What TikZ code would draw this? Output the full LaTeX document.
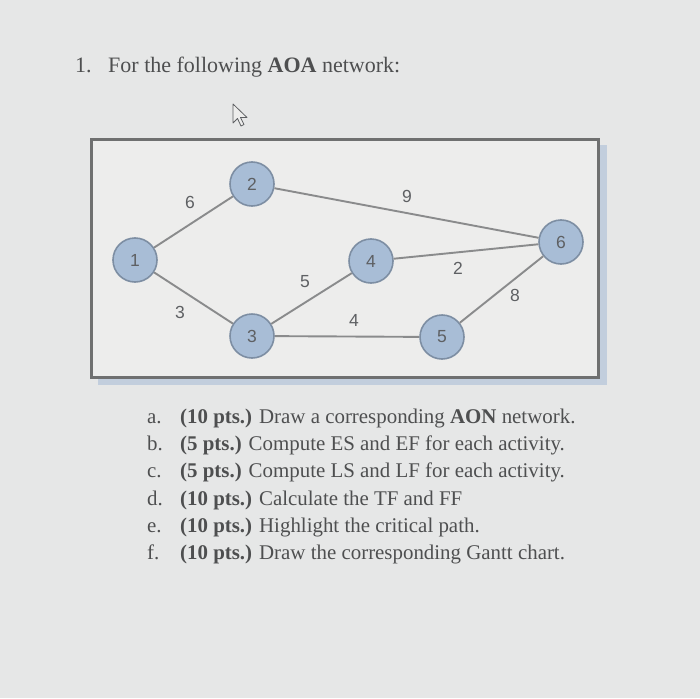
\documentclass[tikz,border=0pt]{standalone}
\usepackage{fontspec}
\setmainfont{Liberation Serif}
\newfontfamily\digitfont{Liberation Sans}
\definecolor{pagebg}{HTML}{E6E7E7}
\definecolor{boxbg}{HTML}{EDEDEC}
\definecolor{framegray}{HTML}{6F7070}
\definecolor{frameblue}{HTML}{C2CEDD}
\definecolor{evfill}{HTML}{A8BDD6}
\definecolor{evline}{HTML}{7D8EA3}
\definecolor{edgegray}{HTML}{8A8B8C}
\definecolor{inkgray}{HTML}{4E4F50}
\definecolor{numgray}{HTML}{5E6063}

\tikzset{
  event/.style={circle, draw=evline, line width=1.6pt, fill=evfill,
    minimum size=44pt, inner sep=0pt, text=numgray,
    font=\digitfont\fontsize{17.5}{17.5}\selectfont},
  act/.style={draw=edgegray, line width=1.9pt},
  wt/.style={text=numgray, inner sep=0pt, font=\digitfont\fontsize{17.5}{17.5}\selectfont},
  itemtag/.style={anchor=base west, inner sep=0pt, text=inkgray,
    font=\fontsize{20.9}{24}\selectfont},
  itemtext/.style={anchor=base west, inner sep=0pt, text=inkgray,
    font=\fontsize{20.9}{24}\selectfont}
}

\begin{document}
\begin{tikzpicture}[x=1pt, y=-1pt]
    % Page
    \fill[pagebg] (0,0) rectangle (700,698);
    \useasboundingbox (0,0) rectangle (700,698);

    % Question
    \node[itemtag, font=\fontsize{22}{26}\selectfont] (qnum) at (75,73) {1.};
    \node[itemtext, font=\fontsize{22}{26}\selectfont] (qtext) at (108,73)
        {For the following \textbf{AOA} network:};

    % Mouse pointer
    \draw[numgray, line width=0.8pt, fill=boxbg, line join=round]
        (233,104) -- (233,123) -- (237.5,118.5) -- (241,126) -- (244,124.5)
        -- (240.5,117.5) -- (247,117.5) -- cycle;

    % Frame with its blue shadow
    \fill[frameblue] (98,145) rectangle (607,385);
    \filldraw[fill=boxbg, draw=framegray, line width=3pt] (91.5,139.5) rectangle (598.5,377.5);

    % Events
    \node[event] (n1) at (135,260) {1};
    \node[event] (n2) at (252,184) {2};
    \node[event] (n3) at (252,336) {3};
    \node[event] (n4) at (371,261) {4};
    \node[event] (n5) at (442,337) {5};
    \node[event] (n6) at (561,242) {6};

    % Activities
    \draw[act] (n1) -- (n2);
    \draw[act] (n1) -- (n3);
    \draw[act] (n2) -- (n6);
    \draw[act] (n3) -- (n4);
    \draw[act] (n3) -- (n5);
    \draw[act] (n4) -- (n6);
    \draw[act] (n5) -- (n6);

    % Durations
    \node[wt] (w12) at (190,202) {6};
    \node[wt] (w13) at (180,312) {3};
    \node[wt] (w26) at (407,196) {9};
    \node[wt] (w34) at (305,282) {5};
    \node[wt] (w35) at (354,320) {4};
    \node[wt] (w46) at (458,268) {2};
    \node[wt] (w56) at (515,295) {8};

    % Parts
    \node[itemtag] (pa) at (147,423) {a.};
    \node[itemtext] (ta) at (180,423) {\textbf{(10 pts.)} Draw a corresponding \textbf{AON} network.};
    \node[itemtag] (pb) at (147,450) {b.};
    \node[itemtext] (tb) at (180,450) {\textbf{(5 pts.)} Compute ES and EF for each activity.};
    \node[itemtag] (pc) at (147,477.5) {c.};
    \node[itemtext] (tc) at (180,477.5) {\textbf{(5 pts.)} Compute LS and LF for each activity.};
    \node[itemtag] (pd) at (147,505) {d.};
    \node[itemtext] (td) at (180,505) {\textbf{(10 pts.)} Calculate the TF and FF};
    \node[itemtag] (pe) at (147,532) {e.};
    \node[itemtext] (te) at (180,532) {\textbf{(10 pts.)} Highlight the critical path.};
    \node[itemtag] (pf) at (147,559) {f.};
    \node[itemtext] (tf) at (180,559) {\textbf{(10 pts.)} Draw the corresponding Gantt chart.};
\end{tikzpicture}
\end{document}
